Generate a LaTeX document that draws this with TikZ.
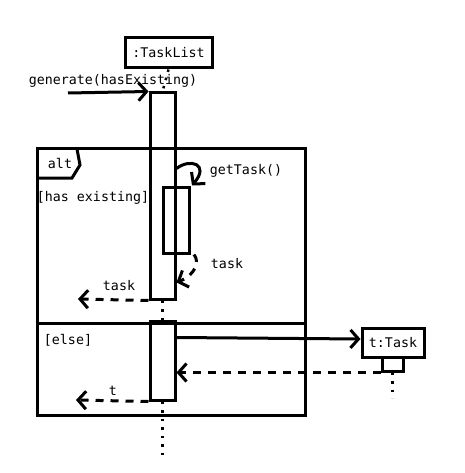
\documentclass[tikz,border=0pt]{standalone}
\usepackage{fontspec}
\newfontfamily\monof{DejaVu Sans Mono}
\usetikzlibrary{arrows.meta}
\begin{document}
\begin{tikzpicture}[x=1pt,y=-1pt,line width=3pt,
  font=\monof\fontsize{13.3}{15}\selectfont,
  box/.style={draw,inner sep=0pt,rectangle},
  txt/.style={inner sep=0pt,anchor=base},
  msg/.style={-{Straight Barb[length=8pt,width=18pt]}},
  ret/.style={msg,dash pattern=on 8pt off 7pt},
  life/.style={line width=2.5pt,dash pattern=on 2.5pt off 6pt}]
\useasboundingbox (0,0) rectangle (464,473);
% objects
\node[box,minimum width=87pt,minimum height=30pt] (tl) at (168.5,53) {:TaskList};
\node[box,minimum width=62pt,minimum height=29pt] (tobj) at (393,342.5) {t:Task};
% frame
\node[box,minimum width=268pt,minimum height=266pt] (frame) at (171,282) {};
\draw (frame.north west |- 0,323) -- (frame.north east |- 0,323);
\draw (37,178) -- (72,178) -- (80,165) -- (77,149);
\node[txt] (alt) at (60,168) {alt};
\node[txt] (g1) at (93,201) {[has existing]};
\node[txt] (g2) at (68,344) {[else]};
% activations
\node[box,minimum width=25pt,minimum height=206pt] (act1) at (162.5,196) {};
\node[box,minimum width=26pt,minimum height=66pt] (nest) at (176.5,220) {};
\node[box,minimum width=25pt,minimum height=79pt] (act2) at (162.5,360.5) {};
\node[box,minimum width=21pt,minimum height=14pt] (tact) at (392.5,364) {};
% lifelines
\draw[life] (tl.south) -- (act1.north);
\draw[life] (act1.south) -- (act2.north);
\coordinate (end1) at (162.5,455);
\draw[life] (act2.south) -- (end1);
\coordinate (end2) at (392.5,398);
\draw[life] (tact.south) -- (end2);
% messages
\coordinate (gs) at (68,93);
\draw[msg] (gs) -- (act1.north west);
\node[txt] (lgen) at (113,85) {generate(hasExisting)};
\draw[msg] ([yshift=-77pt]act1.north east) .. controls (190,158) and (210,164) .. ([xshift=1pt]nest.north east);
\node[txt] (lget) at (246,174) {getTask()};
\draw[ret] ([xshift=3pt]nest.south east) .. controls (200,262) and (195,275) .. ([yshift=-191pt]act1.north east);
\node[txt] (lt1) at (227,268) {task};
\coordinate (r1) at (78,299);
\draw[ret] (act1.south west) -- (r1);
\node[txt] (lt2) at (119,290) {task};
\draw[msg] ([yshift=-18pt]act2.north east) -- ([yshift=3.5pt]tobj.west);
\draw[ret] (tact.south west) -- (act2.east |- tact.south);
\coordinate (r2) at (76,400);
\draw[ret] (act2.south west) -- (r2);
\node[txt] (lt3) at (113,395) {t};
\end{tikzpicture}
\end{document}
